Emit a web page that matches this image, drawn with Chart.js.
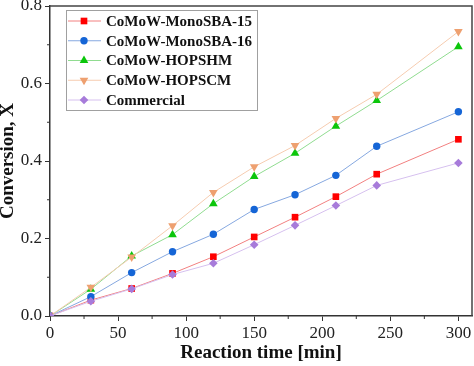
<!DOCTYPE html>
<html>
<head>
<meta charset="utf-8">
<script src="https://cdn.jsdelivr.net/npm/chart.js@4/dist/chart.umd.min.js"></script>
<style>
  html, body { margin: 0; padding: 0; background: #fff; }
  canvas { display: block; }
</style>
</head>
<body>
<canvas id="myChart" width="474" height="366"></canvas>
<script>
const times = [0, 30, 60, 90, 120, 150, 180, 210, 240, 300];
const names = ['CoMoW-MonoSBA-15', 'CoMoW-MonoSBA-16', 'CoMoW-HOPSHM', 'CoMoW-HOPSCM', 'Commercial'];
const sba15 = [0, 0.041, 0.071, 0.110, 0.153, 0.204, 0.255, 0.308, 0.366, 0.456];
const sba16 = [0, 0.050, 0.112, 0.166, 0.211, 0.275, 0.313, 0.363, 0.438, 0.527];
const hopshm = [0, 0.069, 0.155, 0.210, 0.290, 0.360, 0.420, 0.490, 0.556, 0.695];
const hopscm = [0, 0.074, 0.152, 0.233, 0.319, 0.385, 0.440, 0.510, 0.572, 0.734];
const commercial = [0, 0.038, 0.070, 0.107, 0.136, 0.184, 0.234, 0.285, 0.337, 0.395];
const yTicks = [0, 0.2, 0.4, 0.6, 0.8];

const serif = "'Liberation Serif', 'Times New Roman', serif";
const series = [sba15, sba16, hopshm, hopscm, commercial];
const styles = [
	{ marker: '#ff0000', line: '#f28080', pointStyle: 'rect', radius: 4.7, rotation: 0 },
	{ marker: '#1565d6', line: '#86a8e0', pointStyle: 'circle', radius: 3.7, rotation: 0 },
	{ marker: '#0bc60b', line: '#90dc90', pointStyle: 'triangle', radius: 5, rotation: 0 },
	{ marker: '#eea070', line: '#f6ccb0', pointStyle: 'triangle', radius: 5, rotation: 180 },
	{ marker: '#a77bda', line: '#d6c0ef', pointStyle: 'rectRot', radius: 4.3, rotation: 0 }
];

const frame = {
	id: 'frame',
	afterDraw(chart) {
		const c = chart.ctx, a = chart.chartArea;
		const xs = chart.scales.x, ys = chart.scales.y;
		c.save();
		c.strokeStyle = '#444';
		c.lineWidth = 1.5;
		c.beginPath();
		c.moveTo(a.left, a.top); c.lineTo(a.right, a.top); c.lineTo(a.right, a.bottom);
		c.stroke();
		// minor ticks
		c.lineWidth = 1;
		c.strokeStyle = '#333';
		c.beginPath();
		for (let v = 25; v < 310; v += 50) {
			const px = xs.getPixelForValue(v);
			c.moveTo(px, a.bottom); c.lineTo(px, a.bottom + 3);
		}
		for (let v = 0.1; v < 0.8; v += 0.2) {
			const py = ys.getPixelForValue(v);
			c.moveTo(a.left, py); c.lineTo(a.left - 3, py);
		}
		c.stroke();

		// legend
		const bx = 66, by = 10, bw = 191, bh = 100;
		c.fillStyle = '#fff';
		c.fillRect(bx, by, bw, bh);
		c.strokeStyle = '#a0a0a0';
		c.lineWidth = 1;
		c.strokeRect(bx + 0.5, by + 0.5, bw, bh);
		chart.data.datasets.forEach((ds, i) => {
			const st = styles[i];
			const y = 21 + i * 19.75;
			c.strokeStyle = st.line;
			c.lineWidth = 1;
			c.beginPath(); c.moveTo(68, y); c.lineTo(101, y); c.stroke();
			c.fillStyle = st.marker;
			Chart.helpers.drawPoint(c, { pointStyle: st.pointStyle, radius: st.radius, rotation: st.rotation, borderWidth: 0 }, 84, y);
			c.fillStyle = '#111';
			c.font = 'bold 15px ' + serif;
			c.textBaseline = 'middle';
			c.textAlign = 'left';
			c.fillText(ds.label, 106, y + 1);
		});
		c.restore();
	}
};

let ctx = document.getElementById('myChart');
let chart = new Chart(ctx, {
	type: 'line',
	data: {
		datasets: names.map((n, i) => ({
			label: n,
			data: times.map((t, j) => ({ x: t, y: series[i][j] })),
			borderColor: styles[i].line,
			backgroundColor: styles[i].marker,
			pointBackgroundColor: styles[i].marker,
			pointBorderWidth: 0,
			pointStyle: styles[i].pointStyle,
			pointRadius: styles[i].radius,
			pointRotation: styles[i].rotation,
			borderWidth: 1,
			tension: 0,
			order: 5 - i
		}))
	},
	options: {
		responsive: false,
		animation: false,
		events: [],
		layout: { autoPadding: false, padding: { top: 6, right: 2, left: 0, bottom: 0 } },
		plugins: { legend: { display: false }, tooltip: { enabled: false } },
		scales: {
			x: {
				type: 'linear',
				min: 0,
				max: 310,
				border: { display: true, color: '#333', width: 1.5 },
				grid: { drawOnChartArea: false, tickLength: 5, color: '#333' },
				ticks: {
					stepSize: 50,
					includeBounds: false,
					padding: 2,
					color: '#222',
					font: { family: serif, size: 17 },
					maxRotation: 0
				},
				title: {
					display: true,
					text: 'Reaction time [min]',
					color: '#111',
					font: { family: serif, size: 19, weight: 'bold', lineHeight: 1 },
					padding: { top: 0, bottom: 3 }
				},
				afterFit(scale) { scale.height = 50; scale.paddingLeft = 0; scale.paddingRight = 0; }
			},
			y: {
				min: 0,
				max: 0.8,
				border: { display: true, color: '#333', width: 1.5 },
				grid: { drawOnChartArea: false, tickLength: 5, color: '#333' },
				afterBuildTicks(scale) { scale.ticks = yTicks.map(v => ({ value: v })); },
				ticks: {
					padding: 3,
					color: '#222',
					font: { family: serif, size: 17 },
					callback: v => v.toFixed(1)
				},
				title: {
					display: true,
					text: 'Conversion, X',
					color: '#111',
					font: { family: serif, size: 19, weight: 'bold', lineHeight: 1 },
					padding: { top: -1, bottom: 0 }
				},
				afterFit(scale) { scale.width = 50; scale.paddingTop = 0; scale.paddingBottom = 0; }
			}
		}
	},
	plugins: [frame]
});
</script>
</body>
</html>
